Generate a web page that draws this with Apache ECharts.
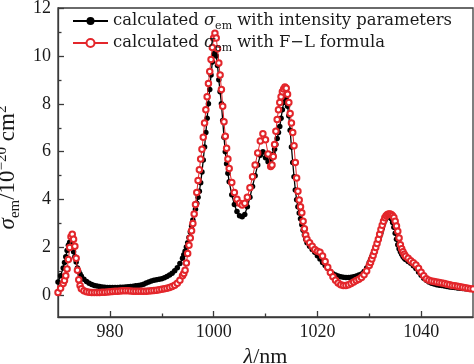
<!DOCTYPE html>
<html>
<head>
<meta charset="utf-8">
<script src="https://cdn.jsdelivr.net/npm/echarts@6/dist/echarts.min.js"></script>
<style>html,body{margin:0;padding:0;background:#fff}#c{width:474px;height:364px}</style>
</head>
<body>
<div id="c"></div>
<script>
// wavelength samples (nm)
const wavelengths = [
970, 970.5,
971, 971.25, 971.5, 971.75, 972, 972.25, 972.5, 972.75, 973, 973.25, 973.5, 973.75, 974, 974.25, 974.5,
975, 975.5, 976, 976.5, 977, 977.5, 978, 978.5, 979, 979.5, 980, 980.5, 981, 981.5, 982, 982.5, 983, 983.5, 984, 984.5, 985, 985.5, 986, 986.5, 987, 987.5, 988, 988.5, 989, 989.5, 990, 990.5, 991, 991.5, 992, 992.5, 993, 993.5, 994,
994.25, 994.5, 994.75, 995, 995.25, 995.5, 995.75, 996, 996.25, 996.5, 996.75, 997, 997.25, 997.5, 997.75, 998, 998.25, 998.5, 998.75, 999, 999.25, 999.5, 999.75, 1000, 1000.25, 1000.5, 1000.75, 1001, 1001.25, 1001.5, 1001.75, 1002, 1002.25, 1002.5, 1002.75, 1003,
1003.5, 1004, 1004.5, 1005, 1005.5, 1006, 1006.5, 1007, 1007.5, 1008, 1008.5, 1009, 1009.5, 1010, 1010.5, 1011,
1011.25, 1011.5, 1011.75, 1012, 1012.25, 1012.5, 1012.75, 1013, 1013.25, 1013.5, 1013.75, 1014, 1014.25, 1014.5, 1014.75, 1015, 1015.25, 1015.5, 1015.75, 1016, 1016.25, 1016.5, 1016.75, 1017, 1017.25, 1017.5, 1017.75, 1018,
1018.5, 1019, 1019.5, 1020, 1020.5, 1021, 1021.5, 1022, 1022.5, 1023, 1023.5, 1024, 1024.5, 1025, 1025.5, 1026, 1026.5, 1027, 1027.5, 1028, 1028.5, 1029, 1029.5, 1030,
1030.25, 1030.5, 1030.75, 1031, 1031.25, 1031.5, 1031.75, 1032, 1032.25, 1032.5, 1032.75, 1033, 1033.25, 1033.5, 1033.75, 1034, 1034.25, 1034.5, 1034.75, 1035, 1035.25, 1035.5, 1035.75, 1036, 1036.25, 1036.5, 1036.75, 1037,
1037.5, 1038, 1038.5, 1039, 1039.5, 1040, 1040.5, 1041, 1041.5, 1042, 1042.5, 1043, 1043.5, 1044, 1044.5, 1045, 1045.5, 1046, 1046.5, 1047, 1047.5, 1048, 1048.5, 1049, 1049.5, 1050
];

// calculated sigma_em with intensity parameters (10^-20 cm^2)
const sigmaIntensity = [
0.56, 0.82,
1.15, 1.38, 1.62, 1.88, 2.1, 2.22, 2.2, 2.02, 1.82, 1.62, 1.4, 1.15, 1.0, 0.9, 0.8,
0.68, 0.58, 0.51, 0.46, 0.42, 0.39, 0.37, 0.35, 0.34, 0.33, 0.33, 0.33, 0.33, 0.33, 0.34, 0.34, 0.35, 0.36, 0.37, 0.38, 0.4, 0.42, 0.44, 0.47, 0.52, 0.56, 0.6, 0.63, 0.66, 0.68, 0.7, 0.74, 0.79, 0.85, 0.93, 1.03, 1.16, 1.33, 1.55,
1.7, 1.85, 2.02, 2.2, 2.42, 2.65, 2.9, 3.15, 3.38, 3.6, 3.85, 4.1, 4.35, 4.7, 5.15, 5.65, 6.2, 6.8, 7.4, 8.0, 8.6, 9.2, 9.75, 10.05, 10.15, 10.0, 9.6, 9.0, 8.5, 8.0, 7.3, 6.6, 6.0, 5.5, 5.1, 4.75,
4.2, 3.8, 3.5, 3.33, 3.28, 3.38, 3.7, 4.1, 4.55, 5.0, 5.45, 5.85, 6.0, 5.75, 5.58, 5.65,
5.75, 5.9, 6.1, 6.3, 6.55, 6.8, 7.05, 7.4, 7.75, 8.05, 8.25, 8.2, 7.9, 7.5, 6.9, 6.2, 5.55, 4.95, 4.4, 4.0, 3.7, 3.44, 3.2, 2.95, 2.72, 2.52, 2.35, 2.2,
2.05, 1.92, 1.8, 1.66, 1.52, 1.38, 1.25, 1.12, 1.0, 0.91, 0.85, 0.81, 0.78, 0.76, 0.75, 0.75, 0.76, 0.78, 0.81, 0.85, 0.9, 1.0, 1.15, 1.38,
1.5, 1.62, 1.75, 1.88, 2.02, 2.15, 2.3, 2.45, 2.62, 2.8, 2.98, 3.12, 3.22, 3.28, 3.3, 3.28, 3.2, 3.05, 2.85, 2.6, 2.35, 2.12, 1.95, 1.82, 1.72, 1.63, 1.55, 1.5,
1.42, 1.34, 1.24, 1.12, 0.98, 0.84, 0.72, 0.63, 0.56, 0.51, 0.48, 0.45, 0.43, 0.41, 0.39, 0.37, 0.35, 0.34, 0.33, 0.31, 0.3, 0.29, 0.28, 0.27, 0.26, 0.25
];

// calculated sigma_em with F-L formula (10^-20 cm^2)
const sigmaFL = [
0.12, 0.3,
0.5, 0.62, 0.82, 1.1, 1.5, 2.0, 2.45, 2.55, 2.35, 2.05, 1.55, 1.05, 0.65, 0.42, 0.28,
0.2, 0.15, 0.13, 0.12, 0.12, 0.12, 0.12, 0.13, 0.13, 0.14, 0.15, 0.16, 0.17, 0.18, 0.19, 0.2, 0.2, 0.2, 0.19, 0.18, 0.17, 0.17, 0.17, 0.17, 0.18, 0.19, 0.2, 0.21, 0.22, 0.24, 0.26, 0.28, 0.3, 0.33, 0.37, 0.43, 0.51, 0.63, 0.82,
0.92, 1.05, 1.35, 1.75, 2.1, 2.4, 2.7, 3.0, 3.4, 3.8, 4.3, 4.8, 5.25, 5.7, 6.1, 6.6, 7.2, 7.75, 8.3, 8.85, 9.35, 9.85, 10.35, 10.75, 10.95, 10.75, 10.3, 9.7, 9.2, 8.6, 7.9, 7.25, 6.65, 6.15, 5.7, 5.3,
4.72, 4.3, 4.02, 3.85, 3.78, 3.85, 4.1, 4.5, 4.95, 5.45, 5.95, 6.45, 6.75, 6.5, 5.9, 5.38,
5.45, 5.8, 6.3, 6.85, 7.35, 7.75, 8.05, 8.3, 8.5, 8.62, 8.7, 8.65, 8.4, 8.05, 7.6, 7.2, 6.8, 6.25, 5.55, 4.9, 4.35, 3.98, 3.7, 3.45, 3.1, 2.78, 2.52, 2.35,
2.2, 2.05, 1.92, 1.85, 1.8, 1.65, 1.42, 1.18, 0.96, 0.78, 0.63, 0.52, 0.45, 0.42, 0.42, 0.45, 0.5, 0.56, 0.62, 0.68, 0.75, 0.86, 1.02, 1.25,
1.38, 1.52, 1.67, 1.83, 2.0, 2.17, 2.35, 2.55, 2.75, 2.93, 3.1, 3.24, 3.33, 3.38, 3.4, 3.4, 3.38, 3.33, 3.25, 3.1, 2.9, 2.68, 2.4, 2.12, 1.95, 1.82, 1.72, 1.64,
1.55, 1.45, 1.37, 1.27, 1.13, 0.97, 0.82, 0.7, 0.63, 0.6, 0.58, 0.56, 0.54, 0.52, 0.5, 0.47, 0.45, 0.42, 0.4, 0.38, 0.36, 0.34, 0.32, 0.3, 0.28, 0.27
];

const xTickLabels = [980, 1000, 1020, 1040];
const xMinorTicks = [990, 1010, 1030];
const yTickLabels = [0, 2, 4, 6, 8, 10, 12];
const yMinorTicks = [1, 3, 5, 7, 9, 11];
const seriesNames = ['calculated σem with intensity parameters', 'calculated σem with F−L formula'];
const legendRich = [
  '{t|calculated }{i|σ}{b|em}{t| with intensity parameters}',
  '{t|calculated }{i|σ}{b|em}{t| with F−L formula}'
];

if (wavelengths.length !== sigmaIntensity.length || wavelengths.length !== sigmaFL.length) {
  console.error('length mismatch', wavelengths.length, sigmaIntensity.length, sigmaFL.length);
}

const FONT = 'Liberation Serif';
const LFONT = 'DejaVu Serif';
const TXT = '#1a1a1a';
const AX = '#3a3a3a';
const RED = '#e3262b';

const pairs = (ys) => wavelengths.map((x, i) => [x, ys[i]]);

const chart = echarts.init(document.getElementById('c'), null, {renderer: 'canvas'});
chart.setOption({
  animation: false,
  backgroundColor: '#fff',
  grid: {left: 58, right: 1, top: 8, bottom: 47, outerBoundsMode: 'none', containLabel: false,
    show: true, borderColor: AX, borderWidth: 1.3, backgroundColor: 'transparent'},
  legend: {
    orient: 'vertical', left: 72, top: 13, padding: 0, itemGap: 3,
    itemWidth: 35, itemHeight: 10,
    data: seriesNames,
    formatter: (n) => legendRich[seriesNames.indexOf(n)],
    textStyle: {
      fontFamily: LFONT, color: TXT,
      rich: {
        t: {fontFamily: LFONT, fontSize: 16.4, lineHeight: 22, color: TXT},
        i: {fontFamily: LFONT, fontSize: 16.4, lineHeight: 22, fontStyle: 'italic', color: TXT},
        b: {fontFamily: LFONT, fontSize: 11, lineHeight: 11, verticalAlign: 'bottom', color: TXT}
      }
    }
  },
  xAxis: [
    {
      type: 'value', min: 970, max: 1050, position: 'bottom',
      axisLine: {show: true, onZero: false, lineStyle: {color: AX, width: 1.3}},
      axisTick: {show: true, inside: true, length: 6, customValues: xTickLabels, lineStyle: {color: AX, width: 1.3}},
      axisLabel: {customValues: xTickLabels, formatter: (v) => String(v), fontFamily: FONT, fontSize: 18, color: TXT, margin: 6},
      splitLine: {show: false},
      name: '{i|λ}{t|/nm}', nameLocation: 'middle', nameGap: 24,
      nameTextStyle: {rich: {
        i: {fontFamily: FONT, fontSize: 22, fontStyle: 'italic', color: TXT},
        t: {fontFamily: FONT, fontSize: 22, color: TXT}
      }}
    },
    {
      type: 'value', min: 970, max: 1050, position: 'bottom',
      axisLine: {show: false, onZero: false},
      axisTick: {show: true, inside: true, length: 3.5, customValues: xMinorTicks, lineStyle: {color: AX, width: 1.3}},
      axisLabel: {show: false}, splitLine: {show: false}
    }
  ],
  yAxis: [
    {
      type: 'value', min: -0.9, max: 12, position: 'left',
      axisLine: {show: true, onZero: false, lineStyle: {color: AX, width: 1.3}},
      axisTick: {show: true, inside: true, length: 6, customValues: yTickLabels, lineStyle: {color: AX, width: 1.3}},
      axisLabel: {customValues: yTickLabels, fontFamily: FONT, fontSize: 18, color: TXT, margin: 7},
      splitLine: {show: false},
      name: '{i|σ}{b|em}{t|/10}{p|−20}{t| cm}{p|2}', nameLocation: 'middle', nameGap: 22, nameRotate: 90,
      nameTextStyle: {padding: [0, 10, 0, 0], rich: {
        i: {fontFamily: FONT, fontSize: 23, lineHeight: 28, fontStyle: 'italic', color: TXT},
        t: {fontFamily: FONT, fontSize: 23, lineHeight: 28, color: TXT},
        b: {fontFamily: FONT, fontSize: 15, lineHeight: 15, verticalAlign: 'bottom', color: TXT},
        p: {fontFamily: FONT, fontSize: 15, lineHeight: 15, verticalAlign: 'top', color: TXT}
      }}
    },
    {
      type: 'value', min: -0.9, max: 12, position: 'left',
      axisLine: {show: false, onZero: false},
      axisTick: {show: true, inside: true, length: 3.5, customValues: yMinorTicks, lineStyle: {color: AX, width: 1.3}},
      axisLabel: {show: false}, splitLine: {show: false}
    }
  ],
  series: [
    {
      name: seriesNames[0], type: 'line', data: pairs(sigmaIntensity),
      symbol: 'circle', symbolSize: 5.5, showAllSymbol: true,
      lineStyle: {color: '#000', width: 1.3},
      itemStyle: {color: '#000'}, z: 2
    },
    {
      name: seriesNames[1], type: 'line', data: pairs(sigmaFL),
      symbol: 'emptyCircle', symbolSize: 5.5, showAllSymbol: true,
      lineStyle: {color: RED, width: 1},
      itemStyle: {color: RED, borderColor: RED, borderWidth: 1.2}, z: 3
    }
  ]
});
</script>
</body>
</html>
